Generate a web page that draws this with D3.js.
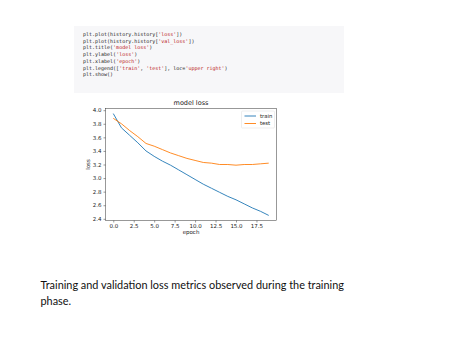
<!DOCTYPE html>
<html>
<head>
<meta charset="utf-8">
<script src="https://cdn.jsdelivr.net/npm/d3@7"></script>
<style>
  body { margin: 0; background: #fff; }
  svg { display: block; }
</style>
</head>
<body>
<div id="slide"></div>
<script>
// Code snippet shown above the figure
const codeLines = [
  [["plt.plot(history.history[", "c"], ["'loss'", "s"], ["])", "c"]],
  [["plt.plot(history.history[", "c"], ["'val_loss'", "s"], ["])", "c"]],
  [["plt.title(", "c"], ["'model loss'", "s"], [")", "c"]],
  [["plt.ylabel(", "c"], ["'loss'", "s"], [")", "c"]],
  [["plt.xlabel(", "c"], ["'epoch'", "s"], [")", "c"]],
  [["plt.legend([", "c"], ["'train'", "s"], [", ", "c"], ["'test'", "s"], ["], loc=", "c"], ["'upper right'", "s"], [")", "c"]],
  [["plt.show()", "c"]]
];

// Loss per epoch
const epochs = d3.range(20);
const trainLoss = [3.95, 3.74, 3.63, 3.52, 3.40, 3.32, 3.25, 3.19, 3.12, 3.05,
                   2.98, 2.91, 2.85, 2.79, 2.73, 2.68, 2.62, 2.56, 2.51, 2.45];
const testLoss = [3.88, 3.80, 3.70, 3.61, 3.51, 3.47, 3.42, 3.37, 3.33, 3.29,
                  3.26, 3.23, 3.22, 3.20, 3.20, 3.19, 3.20, 3.20, 3.21, 3.22];
const seriesNames = ["train", "test"];
const seriesColors = ["#1f77b4", "#ff7f0e"];
const xTicks = [0, 2.5, 5, 7.5, 10, 12.5, 15, 17.5];
const yTicks = [2.4, 2.6, 2.8, 3.0, 3.2, 3.4, 3.6, 3.8, 4.0];
const caption = ["Training and validation loss metrics observed during the training", "phase."];

const W = 474, H = 355;
const svg = d3.select("#slide").append("svg")
  .attr("width", W).attr("height", H);

svg.append("rect").attr("width", W).attr("height", H).attr("fill", "#fff");

// Code cell
const code = svg.append("g");
code.append("rect")
  .attr("x", 74).attr("y", 26).attr("width", 270).attr("height", 67)
  .attr("fill", "#f7f7f9");
codeLines.forEach((parts, i) => {
  const t = code.append("text")
    .attr("x", 83).attr("y", 36 + i * 6.7)
    .attr("font-family", "DejaVu Sans Mono, monospace")
    .attr("font-size", 5)
    .attr("xml:space", "preserve");
  parts.forEach(([txt, kind]) => {
    t.append("tspan")
      .attr("fill", kind === "s" ? "#ba2121" : "#222")
      .text(txt);
  });
});

// Plot
const box = { left: 105.5, right: 276.5, top: 108.5, bottom: 220.5 };
const x = d3.scaleLinear().domain([-0.95, 19.95]).range([box.left, box.right]);
const y = d3.scaleLinear().domain([2.375, 4.025]).range([box.bottom, box.top]);

const plot = svg.append("g")
  .attr("font-family", "DejaVu Sans, sans-serif");

const xAxis = plot.append("g")
  .attr("transform", `translate(0,${box.bottom})`)
  .call(d3.axisBottom(x).tickValues(xTicks).tickFormat(d3.format(".1f")).tickSize(2).tickPadding(2));
const yAxis = plot.append("g")
  .attr("transform", `translate(${box.left},0)`)
  .call(d3.axisLeft(y).tickValues(yTicks).tickFormat(d3.format(".1f")).tickSize(2).tickPadding(2));
[xAxis, yAxis].forEach(a => {
  a.select(".domain").remove();
  a.selectAll("line").attr("stroke", "#333").attr("stroke-width", 0.5);
  a.selectAll("text").attr("font-family", "DejaVu Sans, sans-serif")
    .attr("font-size", 5.5).attr("fill", "#222");
});

const line = d3.line()
  .x((d, i) => x(epochs[i]))
  .y(d => y(d));

[trainLoss, testLoss].forEach((vals, k) => {
  plot.append("path")
    .datum(vals)
    .attr("fill", "none")
    .attr("stroke", seriesColors[k])
    .attr("stroke-width", 0.9)
    .attr("d", line);
});

plot.append("rect")
  .attr("x", box.left).attr("y", box.top)
  .attr("width", box.right - box.left).attr("height", box.bottom - box.top)
  .attr("fill", "none").attr("stroke", "#333").attr("stroke-width", 0.5);

plot.append("text")
  .attr("x", (box.left + box.right) / 2).attr("y", box.top - 3.5)
  .attr("text-anchor", "middle").attr("font-size", 6.5).attr("fill", "#222")
  .text("model loss");
plot.append("text")
  .attr("x", (box.left + box.right) / 2).attr("y", 234)
  .attr("text-anchor", "middle").attr("font-size", 5.5).attr("fill", "#222")
  .text("epoch");
plot.append("text")
  .attr("transform", `translate(90,${(box.top + box.bottom) / 2}) rotate(-90)`)
  .attr("text-anchor", "middle").attr("font-size", 5.5).attr("fill", "#222")
  .text("loss");

// Legend
const legend = plot.append("g");
legend.append("rect")
  .attr("x", 241.5).attr("y", 111).attr("width", 33).attr("height", 17)
  .attr("rx", 1).attr("fill", "#fff").attr("stroke", "#ddd").attr("stroke-width", 0.5);
seriesNames.forEach((name, k) => {
  const ly = 116 + k * 7.5;
  legend.append("line")
    .attr("x1", 244.5).attr("x2", 256).attr("y1", ly).attr("y2", ly)
    .attr("stroke", seriesColors[k]).attr("stroke-width", 0.9);
  legend.append("text")
    .attr("x", 260).attr("y", ly + 1.8)
    .attr("font-size", 5.3).attr("fill", "#222")
    .text(name);
});

// Caption
caption.forEach((c, i) => {
  svg.append("text")
    .attr("x", 40.5).attr("y", 289 + i * 16)
    .attr("font-family", "Lato, sans-serif")
    .attr("font-size", 10.9)
    .attr("fill", "#111")
    .text(c);
});
</script>
</body>
</html>
